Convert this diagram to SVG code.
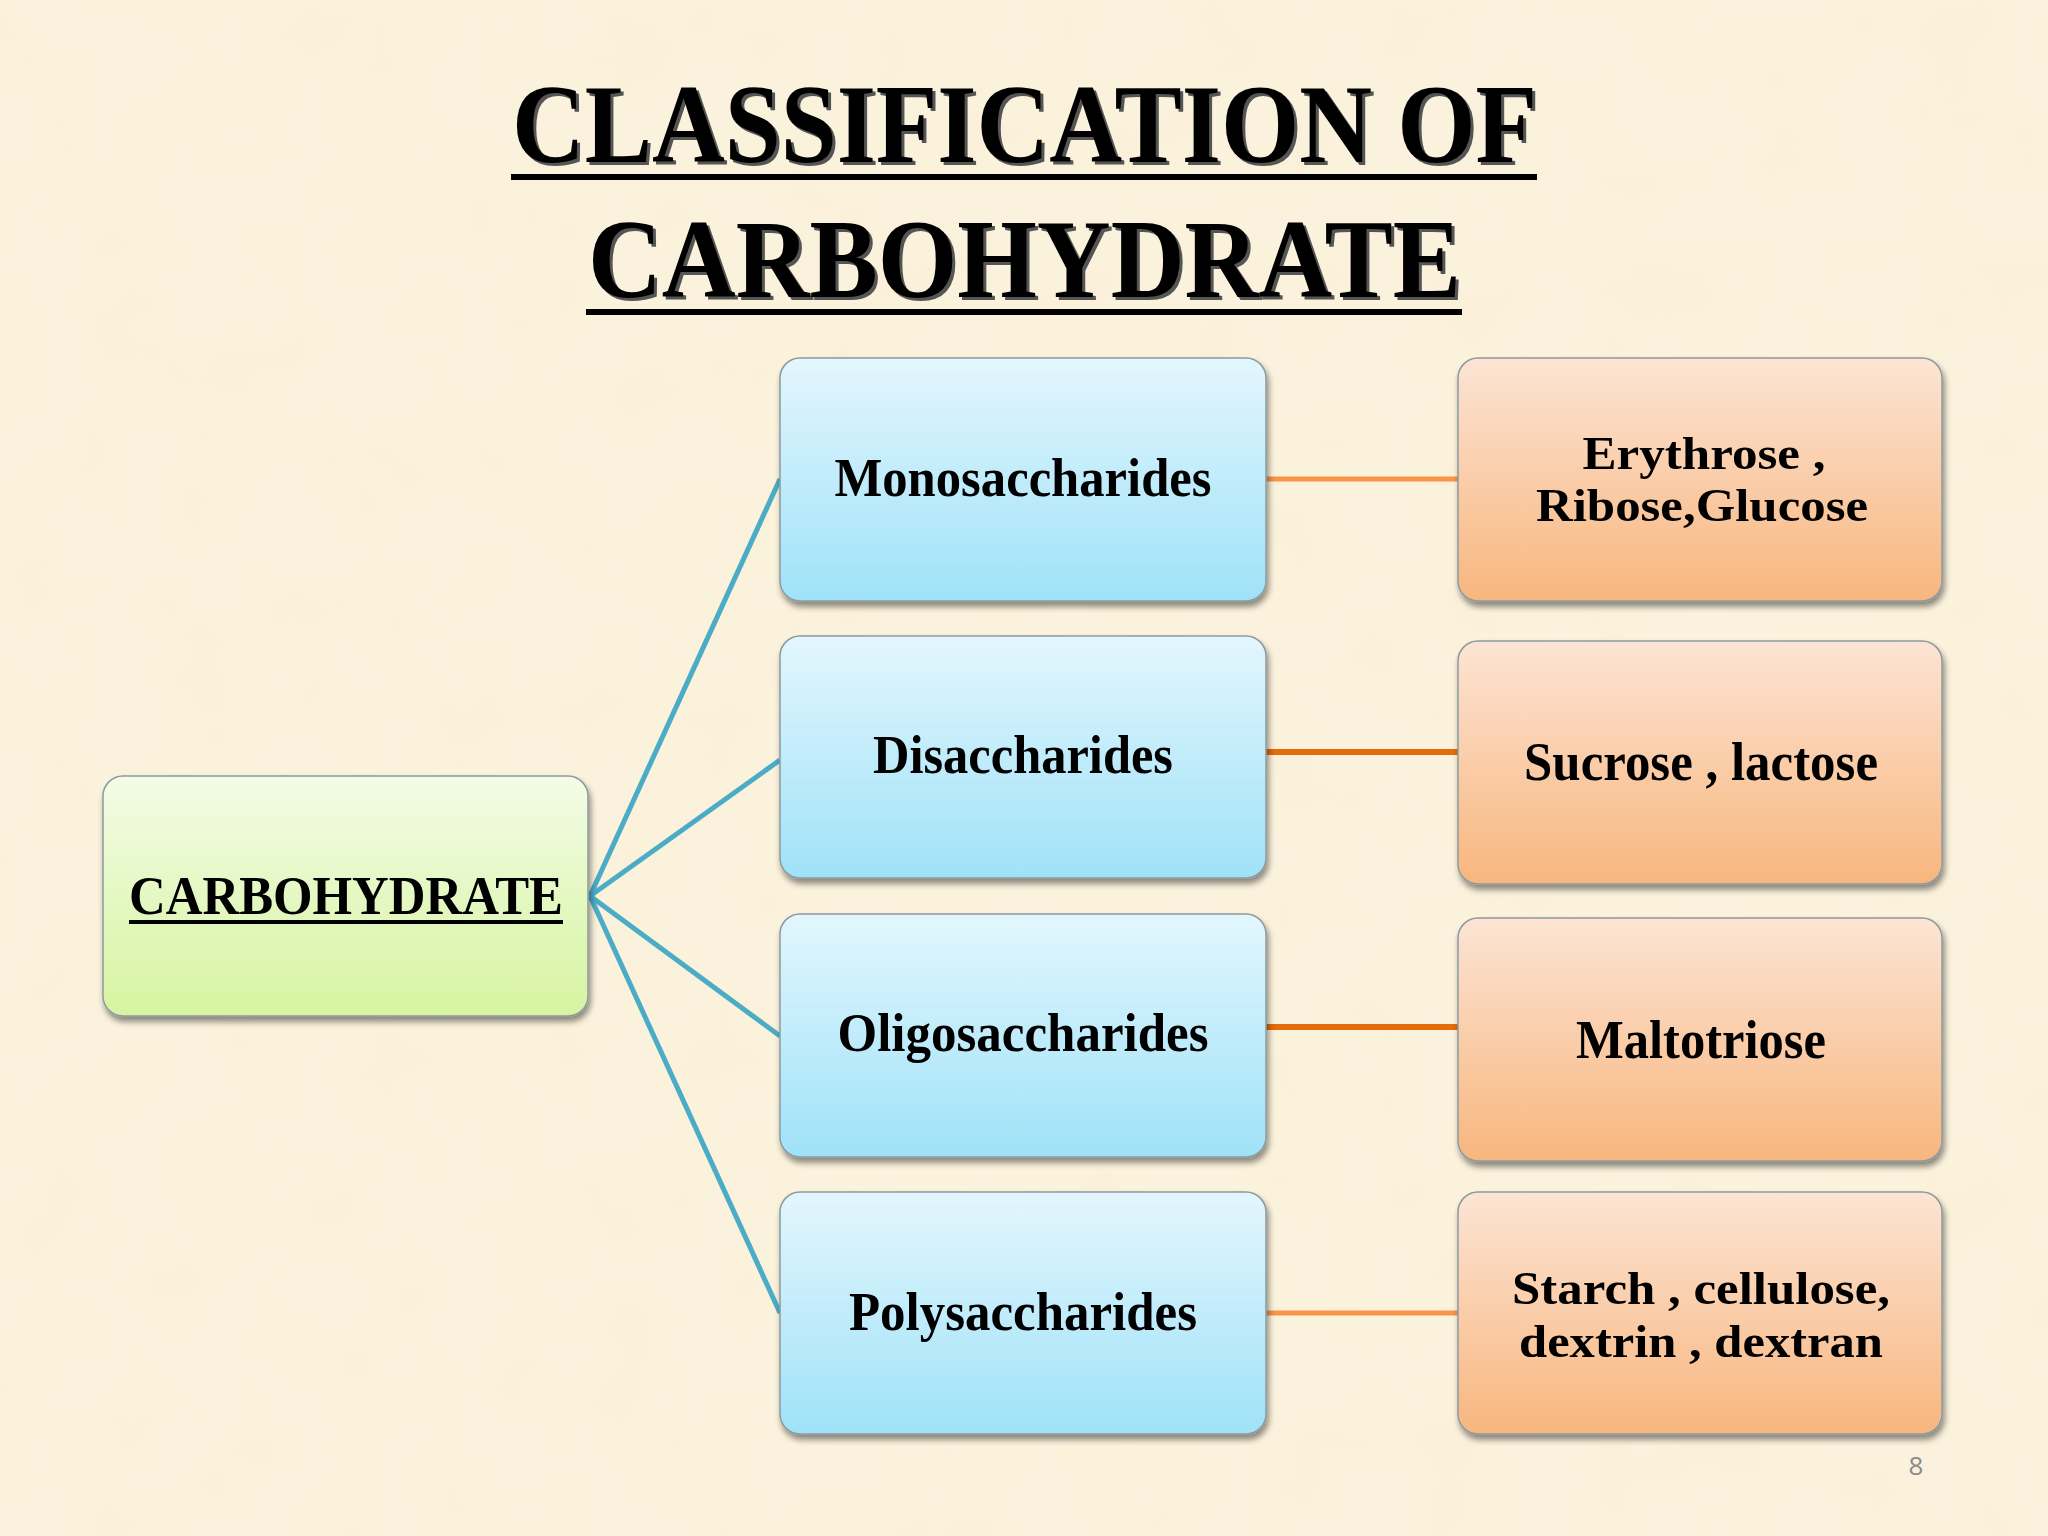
<svg xmlns="http://www.w3.org/2000/svg" width="2048" height="1536" viewBox="0 0 2048 1536">
<defs>
<filter id="paper" x="0" y="0" width="100%" height="100%">
<feTurbulence type="fractalNoise" baseFrequency="0.012" numOctaves="3" seed="7" result="n"/>
<feColorMatrix in="n" type="matrix" values="0 0 0 0 0.96  0 0 0 0 0.90  0 0 0 0 0.76  0 0 0 0.6 0"/>
</filter>
<filter id="shadow" x="-10%" y="-10%" width="120%" height="125%">
<feGaussianBlur in="SourceAlpha" stdDeviation="3"/>
<feOffset dx="2" dy="5" result="b"/>
<feComponentTransfer><feFuncA type="linear" slope="0.45"/></feComponentTransfer>
<feMerge><feMergeNode/><feMergeNode in="SourceGraphic"/></feMerge>
</filter>
<linearGradient id="gBlue" x1="0" y1="0" x2="0" y2="1">
<stop offset="0" stop-color="#E3F6FD"/>
<stop offset="1" stop-color="#9FE2F8"/>
</linearGradient>
<linearGradient id="gGreen" x1="0" y1="0" x2="0" y2="1">
<stop offset="0" stop-color="#F3FCE6"/>
<stop offset="1" stop-color="#D6F4A0"/>
</linearGradient>
<linearGradient id="gOrange" x1="0" y1="0" x2="0" y2="1">
<stop offset="0" stop-color="#FCE4D4"/>
<stop offset="1" stop-color="#F8B67E"/>
</linearGradient>
</defs>
<style>
.box{stroke:#8C9AA0;stroke-width:1.5;filter:url(#shadow)}
.blue{fill:url(#gBlue)}
.green{fill:url(#gGreen)}
.orange{fill:url(#gOrange)}
.lbl{font-family:"Liberation Serif","Times New Roman",serif;font-weight:bold;font-size:54px;fill:#000;text-anchor:middle}
.lbl2{font-size:46px}
.title{font-family:"Liberation Serif","Times New Roman",serif;font-weight:bold;font-size:113px;fill:#000}
.tshadow{font-family:"Liberation Serif","Times New Roman",serif;font-weight:bold;font-size:113px;fill:#555}
.blink{stroke:#4BACC6;stroke-width:5;fill:none}
.olink{stroke:#F79646;stroke-width:5;fill:none}
.olink2{stroke:#E46C0A;stroke-width:6;fill:none}
</style>
<rect width="2048" height="1536" fill="#FBF1DA"/>
<rect width="2048" height="1536" filter="url(#paper)"/>

<g id="title">
<text class="tshadow" x="515" y="165" textLength="1025" lengthAdjust="spacingAndGlyphs">CLASSIFICATION OF</text>
<text class="title" x="512" y="162" textLength="1025" lengthAdjust="spacingAndGlyphs">CLASSIFICATION OF</text>
<rect x="511" y="174" width="1026" height="6" fill="#000"/>
<text class="tshadow" x="591" y="300" textLength="873" lengthAdjust="spacingAndGlyphs">CARBOHYDRATE</text>
<text class="title" x="588" y="297" textLength="873" lengthAdjust="spacingAndGlyphs">CARBOHYDRATE</text>
<rect x="586" y="309" width="876" height="6" fill="#000"/>
</g>

<g id="connectors">
<line class="blink" x1="590" y1="896" x2="780" y2="479"/>
<line class="blink" x1="590" y1="896" x2="780" y2="760"/>
<line class="blink" x1="590" y1="896" x2="780" y2="1036"/>
<line class="blink" x1="590" y1="896" x2="780" y2="1313"/>
<line class="olink" x1="1266" y1="479" x2="1458" y2="479"/>
<line class="olink2" x1="1266" y1="752" x2="1458" y2="752"/>
<line class="olink2" x1="1266" y1="1027" x2="1458" y2="1027"/>
<line class="olink" x1="1266" y1="1313" x2="1458" y2="1313"/>
</g>

<g id="carbohydrate">
<rect class="box green" x="103" y="776" width="485" height="240" rx="20"/>
<text class="lbl" x="346" y="914" textLength="434" lengthAdjust="spacingAndGlyphs">CARBOHYDRATE</text>
<rect x="129" y="920" width="434" height="4" fill="#000"/>
</g>

<g id="monosaccharides">
<rect class="box blue" x="780" y="358" width="486" height="243" rx="20"/>
<text class="lbl" x="1023" y="496" textLength="377" lengthAdjust="spacingAndGlyphs">Monosaccharides</text>
</g>
<g id="disaccharides">
<rect class="box blue" x="780" y="636" width="486" height="242" rx="20"/>
<text class="lbl" x="1023" y="773" textLength="300" lengthAdjust="spacingAndGlyphs">Disaccharides</text>
</g>
<g id="oligosaccharides">
<rect class="box blue" x="780" y="914" width="486" height="243" rx="20"/>
<text class="lbl" x="1023" y="1051" textLength="371" lengthAdjust="spacingAndGlyphs">Oligosaccharides</text>
</g>
<g id="polysaccharides">
<rect class="box blue" x="780" y="1192" width="486" height="242" rx="20"/>
<text class="lbl" x="1023" y="1330" textLength="348" lengthAdjust="spacingAndGlyphs">Polysaccharides</text>
</g>

<g id="mono-examples">
<rect class="box orange" x="1458" y="358" width="484" height="243" rx="20"/>
<text class="lbl lbl2" x="1704" y="469" textLength="243" lengthAdjust="spacingAndGlyphs">Erythrose ,</text>
<text class="lbl lbl2" x="1702" y="521" textLength="332" lengthAdjust="spacingAndGlyphs">Ribose,Glucose</text>
</g>
<g id="di-examples">
<rect class="box orange" x="1458" y="641" width="484" height="243" rx="20"/>
<text class="lbl" x="1701" y="780" textLength="354" lengthAdjust="spacingAndGlyphs">Sucrose , lactose</text>
</g>
<g id="oligo-examples">
<rect class="box orange" x="1458" y="918" width="484" height="243" rx="20"/>
<text class="lbl" x="1701" y="1058" textLength="250" lengthAdjust="spacingAndGlyphs">Maltotriose</text>
</g>
<g id="poly-examples">
<rect class="box orange" x="1458" y="1192" width="484" height="242" rx="20"/>
<text class="lbl lbl2" x="1701" y="1304" textLength="378" lengthAdjust="spacingAndGlyphs">Starch , cellulose,</text>
<text class="lbl lbl2" x="1701" y="1357" textLength="364" lengthAdjust="spacingAndGlyphs">dextrin , dextran</text>
</g>

<text x="1916" y="1475" font-family="'Open Sans','Liberation Sans',sans-serif" font-size="26" fill="#8A8A8A" text-anchor="middle">8</text>
</svg>
